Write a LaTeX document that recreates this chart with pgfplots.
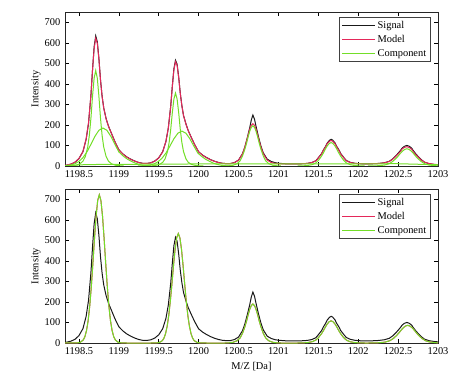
\documentclass[border=0pt]{standalone}
\usepackage{fontspec}
\setmainfont{Liberation Serif}
\usepackage{pgfplots}
\usepackage{pgfplotstable}
\pgfplotsset{compat=1.18}
\definecolor{sig}{RGB}{25,25,25}
\definecolor{mod}{RGB}{228,40,90}
\definecolor{comp}{RGB}{115,222,40}

\pgfplotstableread{
x y
1198.325 3
1198.35 4.5
1198.40 9
1198.45 18
1198.50 36
1198.55 70
1198.59 130
1198.62 208
1198.65 343
1198.67 468
1198.69 580
1198.71 634
1198.73 605
1198.75 524
1198.77 420
1198.79 340
1198.81 284
1198.84 231
1198.87 194
1198.90 166
1198.95 119
1199.00 79
1199.05 59
1199.10 44
1199.15 33
1199.20 24
1199.25 17
1199.30 13
1199.35 12.5
1199.40 15.5
1199.45 24
1199.50 40
1199.55 70
1199.59 120
1199.62 185
1199.65 291
1199.67 388
1199.69 474
1199.71 515
1199.73 496
1199.75 433
1199.77 354
1199.79 294
1199.81 247
1199.84 206
1199.87 172
1199.90 146
1199.95 104
1200.00 69
1200.05 53
1200.10 41
1200.15 31
1200.20 23
1200.25 17
1200.30 13
1200.35 11.5
1200.40 12
1200.45 17
1200.50 29
1200.55 60
1200.58 94
1200.61 138
1200.64 186
1200.66 224
1200.68 248
1200.70 228
1200.72 192
1200.75 142
1200.78 98
1200.81 64
1200.86 33
1200.91 22
1200.96 16
1201.01 13
1201.10 10.5
1201.24 10
1201.30 11
1201.36 12.5
1201.42 17
1201.47 26
1201.50 40
1201.54 60
1201.56 76
1201.59 95
1201.61 111
1201.64 125
1201.66 130
1201.68 126
1201.71 112
1201.73 96
1201.76 77
1201.78 61
1201.82 41
1201.85 27
1201.90 18
1201.96 13
1202.02 11
1202.08 10.5
1202.12 10.5
1202.19 11
1202.26 12.5
1202.33 16
1202.39 23
1202.43 34
1202.47 49
1202.50 62
1202.53 76
1202.55 87
1202.58 96
1202.61 100
1202.64 96
1202.67 87
1202.69 75
1202.72 60
1202.75 47
1202.79 31
1202.83 19
1202.89 11
1202.96 7
1203.00 5.5
}\sigdata

\pgfplotstableread{
x y
1198.325 3.5
1198.35 4.7
1198.40 9.3
1198.45 18.6
1198.50 36.3
1198.55 70.1
1198.59 131.7
1198.62 211
1198.65 345
1198.67 467.7
1198.69 571.5
1198.71 622.4
1198.73 597.2
1198.75 520.7
1198.77 418.2
1198.79 339
1198.81 283.3
1198.84 230.1
1198.87 193
1198.90 165.5
1198.95 118.3
1199.00 78
1199.05 58
1199.10 43
1199.15 32
1199.20 23.5
1199.25 16.6
1199.30 12.6
1199.35 12.3
1199.40 15.2
1199.45 23.5
1199.50 39.6
1199.55 69.4
1199.59 119.4
1199.62 184.8
1199.65 290.8
1199.67 386.8
1199.69 468.6
1199.71 507.9
1199.73 490.5
1199.75 430.5
1199.77 352.9
1199.79 293.2
1199.81 246.5
1199.84 205
1199.87 171
1199.90 145.6
1199.95 103.8
1200.00 68.9
1200.05 52
1200.10 40
1200.15 30
1200.20 22.5
1200.25 16.5
1200.30 13
1200.35 11.5
1200.40 12.2
1200.45 16.6
1200.50 28.3
1200.55 59.2
1200.58 92.5
1200.61 135.6
1200.64 178.8
1200.66 198.4
1200.68 206.3
1200.70 198.5
1200.72 178.9
1200.75 135.7
1200.78 92.6
1200.81 59.3
1200.86 28.4
1200.91 16.8
1200.96 12.4
1201.01 10.8
1201.10 10.4
1201.24 10.5
1201.30 11.1
1201.36 12.6
1201.42 16.9
1201.47 25.4
1201.50 39.1
1201.54 58.5
1201.56 74.4
1201.59 92.7
1201.61 108.6
1201.64 120.1
1201.66 124.7
1201.68 120.1
1201.71 108.6
1201.73 92.7
1201.76 74.4
1201.78 58.5
1201.82 39.1
1201.85 25.4
1201.90 16.9
1201.96 12.6
1202.02 11.1
1202.08 10.8
1202.12 10.8
1202.19 11.3
1202.26 12.4
1202.33 15.5
1202.39 21.9
1202.43 32
1202.47 46.3
1202.50 58
1202.53 71.2
1202.55 82.7
1202.58 90.8
1202.61 93.9
1202.64 90.2
1202.67 81.5
1202.69 69.6
1202.72 55.8
1202.75 43.8
1202.79 29.1
1202.83 18.6
1202.89 11.7
1202.96 7.9
1203.00 6.6
}\modtop

\pgfplotstableread{
x y
1198.325 0
1198.475 0.4
1198.515 2.8
1198.555 15.2
1198.575 31.7
1198.595 61.2
1198.615 109
1198.635 179.8
1198.655 275.1
1198.675 389.2
1198.695 510.5
1198.715 618.8
1198.735 694.6
1198.755 722
1198.775 694.6
1198.795 618.8
1198.815 510.5
1198.835 389.2
1198.855 275.1
1198.875 179.8
1198.895 109
1198.915 61.2
1198.935 31.7
1198.955 15.2
1198.995 2.8
1199.035 0.4
1199.10 0
1199.40 0
1199.465 0.3
1199.505 2.1
1199.545 11.2
1199.565 23.4
1199.585 45.1
1199.605 80.5
1199.625 132.7
1199.645 203.1
1199.665 287.3
1199.685 376.8
1199.705 456.8
1199.725 512.7
1199.745 533
1199.765 512.7
1199.785 456.8
1199.805 376.8
1199.825 287.3
1199.845 203.1
1199.865 132.7
1199.885 80.5
1199.905 45.1
1199.925 23.4
1199.945 11.2
1199.985 2.1
1200.025 0.3
1200.10 0
1200.33 0
1200.38 1
1200.43 3.4
1200.48 10.5
1200.52 24.7
1200.55 47.5
1200.58 79.8
1200.60 106.4
1200.62 136.8
1200.64 163.4
1200.66 182.4
1200.68 190
1200.70 182.4
1200.72 163.4
1200.74 136.8
1200.76 106.4
1200.78 79.8
1200.81 47.5
1200.84 24.7
1200.88 10.5
1200.93 3.4
1200.98 1
1201.03 0
1201.24 0
1201.30 0.5
1201.36 1.9
1201.42 5.9
1201.468 14
1201.504 27
1201.54 45.4
1201.564 60.5
1201.588 77.8
1201.612 92.9
1201.636 103.7
1201.66 108
1201.684 103.7
1201.708 92.9
1201.732 77.8
1201.756 60.5
1201.78 45.4
1201.816 27
1201.852 14
1201.90 5.9
1201.96 1.9
1202.02 0.5
1202.08 0
1202.13 0
1202.20 0.4
1202.27 1.5
1202.34 4.7
1202.396 11.2
1202.438 21.5
1202.48 36.1
1202.508 48.2
1202.536 61.9
1202.564 74
1202.592 82.6
1202.62 86
1202.648 82.6
1202.676 74
1202.704 61.9
1202.732 48.2
1202.76 36.1
1202.802 21.5
1202.844 11.2
1202.90 4.7
1202.97 1.5
1203.00 0.9
}\compbot

\pgfplotsset{
  myax/.style={
    scale only axis, width=279.75pt, height=115.5pt,
    xmin=1198.325, xmax=1203, ymin=0, ymax=750,
    xtick={1198.5,1199,1199.5,1200,1200.5,1201,1201.5,1202,1202.5,1203},
    xticklabels={1198.5,1199,1199.5,1200,1200.5,1201,1201.5,1202,1202.5,1203},
    ytick={0,100,200,300,400,500,600,700},
    tick align=inside, major tick length=3pt,
    xtick pos=both, ytick pos=both,
    tick style={black, line width=0.4pt},
    axis line style={line width=0.5pt, black!85},
    every tick label/.append style={font=\fontsize{7.8}{9}\selectfont},
    /pgf/number format/assume math mode=true,
    label style={font=\fontsize{7.8}{9}\selectfont},
    ylabel={Intensity},
    ylabel style={at={(axis description cs:-0.0778,0.5)}, anchor=center},
    legend style={at={(1,1)}, anchor=north east, xshift=-5.25pt, yshift=-4pt,
      draw=black!75, line width=0.4pt, fill=white, inner xsep=2pt, inner ysep=1pt,
      row sep=0pt, font=\fontsize{7.8}{9}\selectfont,
      nodes={inner sep=1.4pt, text height=5.8pt, text depth=1.7pt}},
    legend image code/.code={\draw[#1] (0pt,0pt) -- (24.75pt,0pt);},
    legend cell align=left,
    every axis plot/.append style={line width=0.75pt},
  }
}

\begin{document}
\begin{tikzpicture}
\useasboundingbox (-48.75pt,-270pt) rectangle (306.75pt,9pt);
\begin{axis}[myax, at={(0pt,0pt)}, anchor=north west]
\addplot[sig] table {\sigdata};
\addlegendentry{Signal}
\addplot[mod] table {\modtop};
\addlegendentry{Model}
\addplot[comp] coordinates {(1198.36,0) (1198.41,0.9) (1198.46,3.7) (1198.51,10.2) (1198.55,23.3) (1198.58,46.5) (1198.61,93) (1198.63,148.8) (1198.65,232.5) (1198.67,339.5) (1198.69,427.8) (1198.71,465) (1198.73,427.8) (1198.75,339.5) (1198.77,232.5) (1198.79,148.8) (1198.81,93) (1198.84,46.5) (1198.87,23.3) (1198.91,10.2) (1198.96,3.7) (1199.01,0.9) (1199.06,0)};
\addlegendentry{Component}
\addplot[comp, forget plot] coordinates {(1198.325,1.5) (1198.35,2.2) (1198.40,5.2) (1198.45,11.1) (1198.50,22.2) (1198.55,40.7) (1198.60,68.5) (1198.65,105.5) (1198.70,144.3) (1198.75,173.9) (1198.80,185) (1198.85,173.9) (1198.90,144.3) (1198.95,105.5) (1199.00,68.5) (1199.05,50) (1199.10,35) (1199.15,24) (1199.20,15) (1199.25,8) (1199.30,3) (1199.35,1) (1199.40,0)};
\addplot[comp, forget plot] coordinates {(1199.36,0) (1199.41,0.7) (1199.46,2.8) (1199.51,7.8) (1199.55,17.8) (1199.58,35.5) (1199.61,71) (1199.63,113.6) (1199.65,177.5) (1199.67,259.2) (1199.69,326.6) (1199.71,355) (1199.73,326.6) (1199.75,259.2) (1199.77,177.5) (1199.79,113.6) (1199.81,71) (1199.84,35.5) (1199.87,17.8) (1199.91,7.8) (1199.96,2.8) (1200.01,0.7) (1200.06,0)};
\addplot[comp, forget plot] coordinates {(1199.24,0) (1199.29,0.7) (1199.34,2) (1199.39,4.8) (1199.44,10.2) (1199.49,20.4) (1199.54,37.4) (1199.59,62.9) (1199.64,96.9) (1199.69,132.6) (1199.74,159.8) (1199.79,170) (1199.84,159.8) (1199.89,132.6) (1199.94,96.9) (1199.99,62.9) (1200.04,46) (1200.09,32) (1200.14,22) (1200.19,13) (1200.24,7) (1200.29,3) (1200.34,1) (1200.39,0)};
\addplot[comp, forget plot] coordinates {(1200.30,0) (1200.33,0) (1200.38,1) (1200.43,3.5) (1200.48,10.8) (1200.52,25.5) (1200.55,49) (1200.58,82.3) (1200.60,109.8) (1200.62,141.1) (1200.64,168.6) (1200.66,188.2) (1200.68,196) (1200.70,188.2) (1200.72,168.6) (1200.74,141.1) (1200.76,109.8) (1200.78,82.3) (1200.81,49) (1200.84,25.5) (1200.88,10.8) (1200.93,3.5) (1200.98,1) (1201.03,0)};
\addplot[comp, forget plot] coordinates {(1201.24,0) (1201.30,0.6) (1201.36,2.1) (1201.42,6.3) (1201.468,14.8) (1201.504,28.5) (1201.54,47.9) (1201.564,63.8) (1201.588,82.1) (1201.612,98) (1201.636,109.4) (1201.66,114) (1201.684,109.4) (1201.708,98) (1201.732,82.1) (1201.756,63.8) (1201.78,47.9) (1201.816,28.5) (1201.852,14.8) (1201.90,6.3) (1201.96,2.1) (1202.02,0.6) (1202.08,0)};
\addplot[comp, forget plot] coordinates {(1202.12,0) (1202.19,0.4) (1202.26,1.5) (1202.33,4.6) (1202.386,10.9) (1202.428,21) (1202.47,35.3) (1202.498,47) (1202.526,60.5) (1202.554,72.2) (1202.582,80.6) (1202.61,84) (1202.638,80.6) (1202.666,72.2) (1202.694,60.5) (1202.722,47) (1202.75,35.3) (1202.792,21) (1202.834,10.9) (1202.89,4.6) (1202.96,1.5) (1203.00,0.6)};
\addplot[comp, forget plot] coordinates {(1198.325,2) (1198.6,7) (1199,8) (1200,10) (1201,10.4) (1202,10.8) (1202.5,11) (1203,6)};
\end{axis}
\begin{axis}[myax, at={(0pt,-132.75pt)}, anchor=north west,
  xlabel={M/Z [Da]},
  xlabel style={at={(axis description cs:0.5,0)}, anchor=center, yshift=-17.5pt}]
\addplot[sig] table {\sigdata};
\addlegendentry{Signal}
\addplot[mod] table {\compbot};
\addlegendentry{Model}
\addplot[comp] table {\compbot};
\addlegendentry{Component}
\end{axis}
\end{tikzpicture}
\end{document}
